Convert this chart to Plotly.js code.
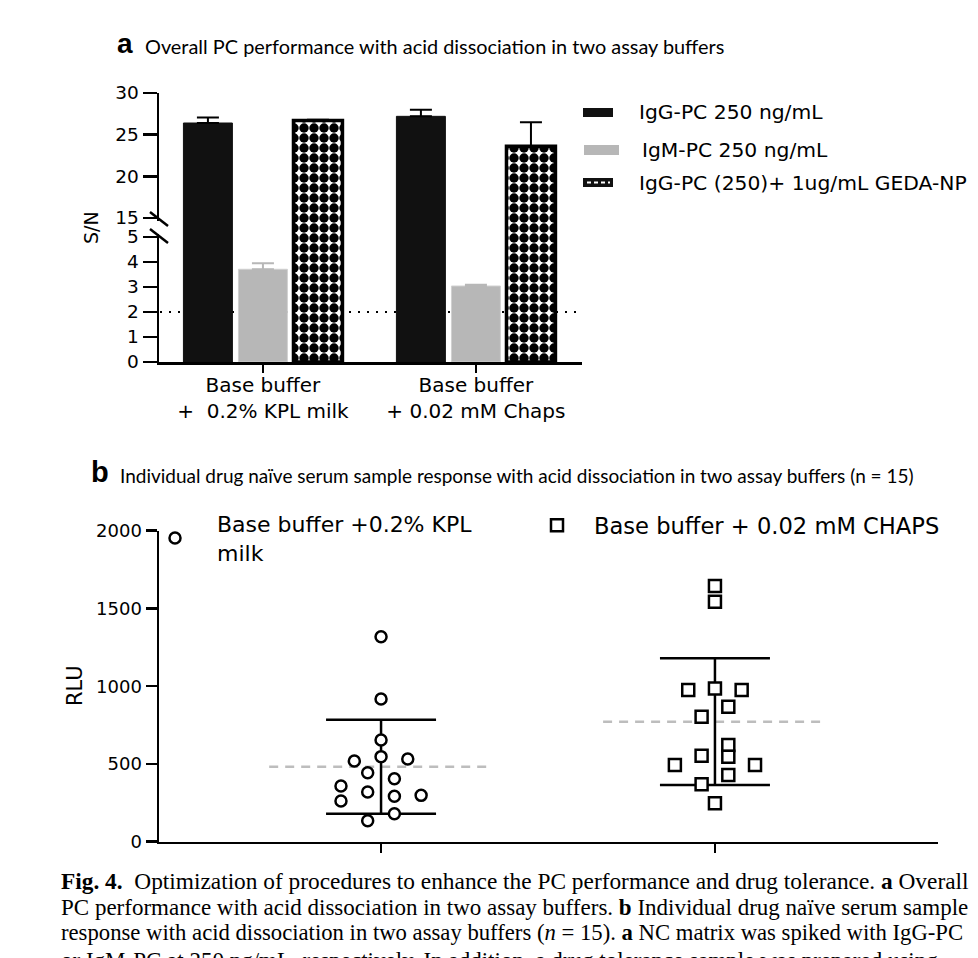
<!DOCTYPE html>
<html><head><meta charset="utf-8">
<script src="https://cdn.plot.ly/plotly-3.0.1.min.js"></script>
<style>html,body{margin:0;padding:0;background:#fff}#chart{width:978px;height:958px}</style>
</head><body><div id="chart"></div>
<script>
// ---------- Panel a data ----------
const groupsA = ['Base buffer<br>+  0.2% KPL milk', 'Base buffer<br>+ 0.02 mM Chaps'];
const seriesA = ['IgG-PC 250 ng/mL', 'IgM-PC 250 ng/mL', 'IgG-PC (250)+ 1ug/mL GEDA-NP'];
const iggPC = [26.4, 27.2];
const iggPCErr = [0.65, 0.8];
const igmPC = [3.71, 3.04];
const igmPCErr = [0.24, 0.05];
const gedaPC = [26.7, 23.6];
const gedaPCErr = [0.1, 2.9];
const cutoffA = 2;
const ticksLowA = [0, 1, 2, 3, 4, 5];
const ticksHighA = [15, 20, 25, 30];

// ---------- Panel b data ----------
const groupsB = ['Base buffer +0.2% KPL<br>milk', 'Base buffer + 0.02 mM CHAPS'];
const kplRLU = [1318, 918, 654, 547, 519, 532, 444, 405, 358, 320, 292, 298, 262, 180, 135];
const kplSpread = [0, 0, 0, 0, -0.08, 0.08, -0.04, 0.04, -0.12, -0.04, 0.04, 0.12, -0.12, 0.04, -0.04];
const chapsRLU = [1644, 1543, 975, 986, 975, 868, 804, 622, 553, 547, 493, 493, 429, 369, 247];
const chapsSpread = [0, 0, -0.08, 0, 0.08, 0.04, -0.04, 0.04, -0.04, 0.04, -0.12, 0.12, 0.04, -0.04, 0];
const meanRLU = [482, 772];
const sdRLU = [303, 408];
const ticksB = [0, 500, 1000, 1500, 2000];

// ---------- helpers (pixel -> paper) ----------
const W = 978, H = 958;
const X = px => px / W;
const Y = py => 1 - py / H;

const black = '#111111', gray = '#b7b7b7';
const tickFontA = {family: 'DejaVu Sans', size: 18.5, color: '#000'};
const xTickFontA = {family: 'DejaVu Sans', size: 20, color: '#000'};

const checker = {shape: '.', fgcolor: '#000', bgcolor: '#fff', size: 10, solidity: 0.7, fillmode: 'replace'};

function barSet(yaxis, show) {
  return [
    {type: 'bar', x: groupsA, y: iggPC, name: seriesA[0], yaxis: yaxis, showlegend: false,
     marker: {color: black, line: {color: black, width: 1}},
     error_y: show === 'high' ? {type: 'data', array: iggPCErr, arrayminus: [0, 0], color: '#000', thickness: 2, width: 11} : {visible: false}},
    {type: 'bar', x: groupsA, y: igmPC, name: seriesA[1], yaxis: yaxis, showlegend: false,
     marker: {color: gray, line: {color: '#d0d0d0', width: 1}},
     error_y: show === 'low' ? {type: 'data', array: igmPCErr, arrayminus: [0, 0], color: gray, thickness: 2, width: 11} : {visible: false}},
    {type: 'bar', x: groupsA, y: gedaPC, name: seriesA[2], yaxis: yaxis, showlegend: false,
     marker: {color: '#fff', pattern: checker, line: {color: '#000', width: 3.5}},
     error_y: show === 'high' ? {type: 'data', array: gedaPCErr, arrayminus: [0, 0], color: '#000', thickness: 2, width: 11} : {visible: false}}
  ];
}

const traces = [].concat(barSet('y', 'low'), barSet('y2', 'high'));

// Panel b: mean lines, SD bars, points
meanRLU.forEach((m, i) => {
  traces.push({type: 'scatter', mode: 'lines', xaxis: 'x2', yaxis: 'y3', showlegend: false, hoverinfo: 'skip',
    x: [i - 0.335, i + 0.335], y: [m, m], line: {color: '#bdbdbd', width: 2.5, dash: '9px,7px'}});
});
traces.push({type: 'scatter', mode: 'markers', xaxis: 'x2', yaxis: 'y3', showlegend: false,
  x: [0, 1], y: meanRLU, marker: {opacity: 0, size: 2},
  error_y: {type: 'data', array: sdRLU, color: '#000', thickness: 2.5, width: 55}});
traces.push({type: 'scatter', mode: 'markers', xaxis: 'x2', yaxis: 'y3', name: groupsB[0], legend: 'legend2',
  x: kplSpread.map(d => 0 + d), y: kplRLU,
  marker: {symbol: 'circle', size: 11, color: '#fff', line: {color: '#000', width: 2.5}}});
traces.push({type: 'scatter', mode: 'markers', xaxis: 'x2', yaxis: 'y3', name: groupsB[1], legend: 'legend3',
  x: chapsSpread.map(d => 1 + d), y: chapsRLU,
  marker: {symbol: 'square', size: 12, color: '#fff', line: {color: '#000', width: 2.5}}});

const axisCommon = {showline: true, linewidth: 2.5, linecolor: '#000', ticks: 'outside', ticklen: 8,
  tickwidth: 2.5, tickcolor: '#000', showgrid: false, zeroline: false, fixedrange: true};

const capFont = {family: 'Liberation Serif', size: 23, color: '#000'};
const legFontA = {family: 'DejaVu Sans', size: 20.3, color: '#000'};

const annotations = [
  // panel titles
  {text: '<b>a</b>', x: X(115), y: Y(44), xanchor: 'left', yanchor: 'middle', font: {family: 'Liberation Sans', size: 28, color: '#000'}},
  {text: 'Overall PC performance with acid dissociation in two assay buffers', x: X(143), y: Y(46), xanchor: 'left', yanchor: 'middle', font: {family: 'Lato', size: 19.9, color: '#000'}},
  {text: '<b>b</b>', x: X(89), y: Y(472), xanchor: 'left', yanchor: 'middle', font: {family: 'Liberation Sans', size: 29, color: '#000'}},
  {text: 'Individual drug naïve serum sample response with acid dissociation in two assay buffers (n = 15)', x: X(118), y: Y(475), xanchor: 'left', yanchor: 'middle', font: {family: 'Lato', size: 19, color: '#000'}},
  // axis titles
  {text: 'S/N', x: X(91), y: Y(228), xanchor: 'center', yanchor: 'middle', textangle: -90, font: {family: 'DejaVu Sans', size: 19, color: '#000'}},
  {text: 'RLU', x: X(75), y: Y(686), xanchor: 'center', yanchor: 'middle', textangle: -90, font: {family: 'DejaVu Sans', size: 21, color: '#000'}},
  // panel a legend text
  {text: seriesA[0], x: X(637), y: Y(112), xanchor: 'left', yanchor: 'middle', font: legFontA},
  {text: seriesA[1], x: X(640), y: Y(150), xanchor: 'left', yanchor: 'middle', font: legFontA},
  {text: seriesA[2], x: X(637), y: Y(183), xanchor: 'left', yanchor: 'middle', font: legFontA},
  // caption
  {text: '<b>Fig. 4.</b>  Optimization of procedures to enhance the PC performance and drug tolerance. <b>a</b> Overall', x: X(59), y: Y(881), xanchor: 'left', yanchor: 'middle', font: {family: 'Liberation Serif', size: 23.35, color: '#000'}},
  {text: 'PC performance with acid dissociation in two assay buffers. <b>b</b> Individual drug naïve serum sample', x: X(59), y: Y(907), xanchor: 'left', yanchor: 'middle', font: capFont},
  {text: 'response with acid dissociation in two assay buffers (<i>n</i> = 15). <b>a</b> NC matrix was spiked with IgG-PC', x: X(59), y: Y(932), xanchor: 'left', yanchor: 'middle', font: {family: 'Liberation Serif', size: 22.7, color: '#000'}},
  {text: 'or IgM-PC at 250 ng/mL, respectively. In addition, a drug tolerance sample was prepared using', x: X(59), y: Y(960), xanchor: 'left', yanchor: 'middle', font: capFont}
].map(a => Object.assign({xref: 'paper', yref: 'paper', showarrow: false}, a));

const shapes = [
  // cutoff dotted line (panel a)
  {type: 'line', xref: 'paper', yref: 'y', x0: X(160), x1: X(582), y0: cutoffA, y1: cutoffA, layer: 'below',
   line: {color: '#000', width: 2, dash: '2px,7px'}},
  // axis break
  {type: 'rect', xref: 'paper', yref: 'paper', x0: X(153), x1: X(166), y0: Y(234), y1: Y(221), fillcolor: '#fff', line: {width: 0}},
  {type: 'line', xref: 'paper', yref: 'paper', x0: X(150), y0: Y(212), x1: X(168), y1: Y(226), line: {color: '#000', width: 2.5}},
  {type: 'line', xref: 'paper', yref: 'paper', x0: X(150), y0: Y(229), x1: X(168), y1: Y(243), line: {color: '#000', width: 2.5}},
  // panel a legend swatches
  {type: 'rect', xref: 'paper', yref: 'paper', x0: X(583), x1: X(613), y0: Y(117), y1: Y(108), fillcolor: black, line: {width: 0}},
  {type: 'rect', xref: 'paper', yref: 'paper', x0: X(584), x1: X(619), y0: Y(155), y1: Y(145), fillcolor: gray, line: {width: 0}},
  {type: 'rect', xref: 'paper', yref: 'paper', x0: X(583), x1: X(613), y0: Y(187), y1: Y(178), fillcolor: black, line: {width: 0}},
  {type: 'line', xref: 'paper', yref: 'paper', x0: X(587), x1: X(610), y0: Y(182.5), y1: Y(182.5), line: {color: '#fff', width: 2, dash: '4px,3px'}}
];

const layout = {
  width: W, height: H,
  margin: {l: 0, r: 0, t: 0, b: 0},
  paper_bgcolor: '#fff', plot_bgcolor: 'rgba(0,0,0,0)',
  barmode: 'group', bargap: 0.225, bargroupgap: 0.11,
  showlegend: true,
  xaxis: Object.assign({}, axisCommon, {domain: [X(159), X(582)], anchor: 'y', type: 'category',
    range: [-0.488, 1.498], tickfont: xTickFontA, ticklabelstandoff: -5}),
  yaxis: Object.assign({}, axisCommon, {domain: [Y(362), Y(233)], anchor: 'x', range: [0, 5.16],
    tickvals: ticksLowA, tickfont: tickFontA, ticklen: 14}),
  yaxis2: Object.assign({}, axisCommon, {domain: [Y(233), Y(93)], anchor: 'x', range: [13.2, 30],
    tickvals: ticksHighA, tickfont: tickFontA, ticklen: 14}),
  xaxis2: Object.assign({}, axisCommon, {domain: [X(159), X(938)], anchor: 'y3', range: [-0.665, 1.668],
    tickvals: [0, 1], showticklabels: false, ticklen: 9}),
  yaxis3: Object.assign({}, axisCommon, {domain: [Y(841.7), Y(530.7)], anchor: 'x2', range: [0, 2000],
    tickvals: ticksB, tickfont: {family: 'DejaVu Sans', size: 18, color: '#000'}, ticklen: 11}),
  legend2: {x: X(133), y: Y(503), xanchor: 'left', yanchor: 'top', bgcolor: 'rgba(0,0,0,0)',
    font: {family: 'DejaVu Sans', size: 22, color: '#000'}, itemwidth: 74},
  legend3: {x: X(520), y: Y(504), xanchor: 'left', yanchor: 'top', bgcolor: 'rgba(0,0,0,0)',
    font: {family: 'DejaVu Sans', size: 22.6, color: '#000'}, itemwidth: 64},
  annotations: annotations,
  shapes: shapes
};

Plotly.newPlot('chart', traces, layout, {displayModeBar: false, staticPlot: true});
</script></body></html>
